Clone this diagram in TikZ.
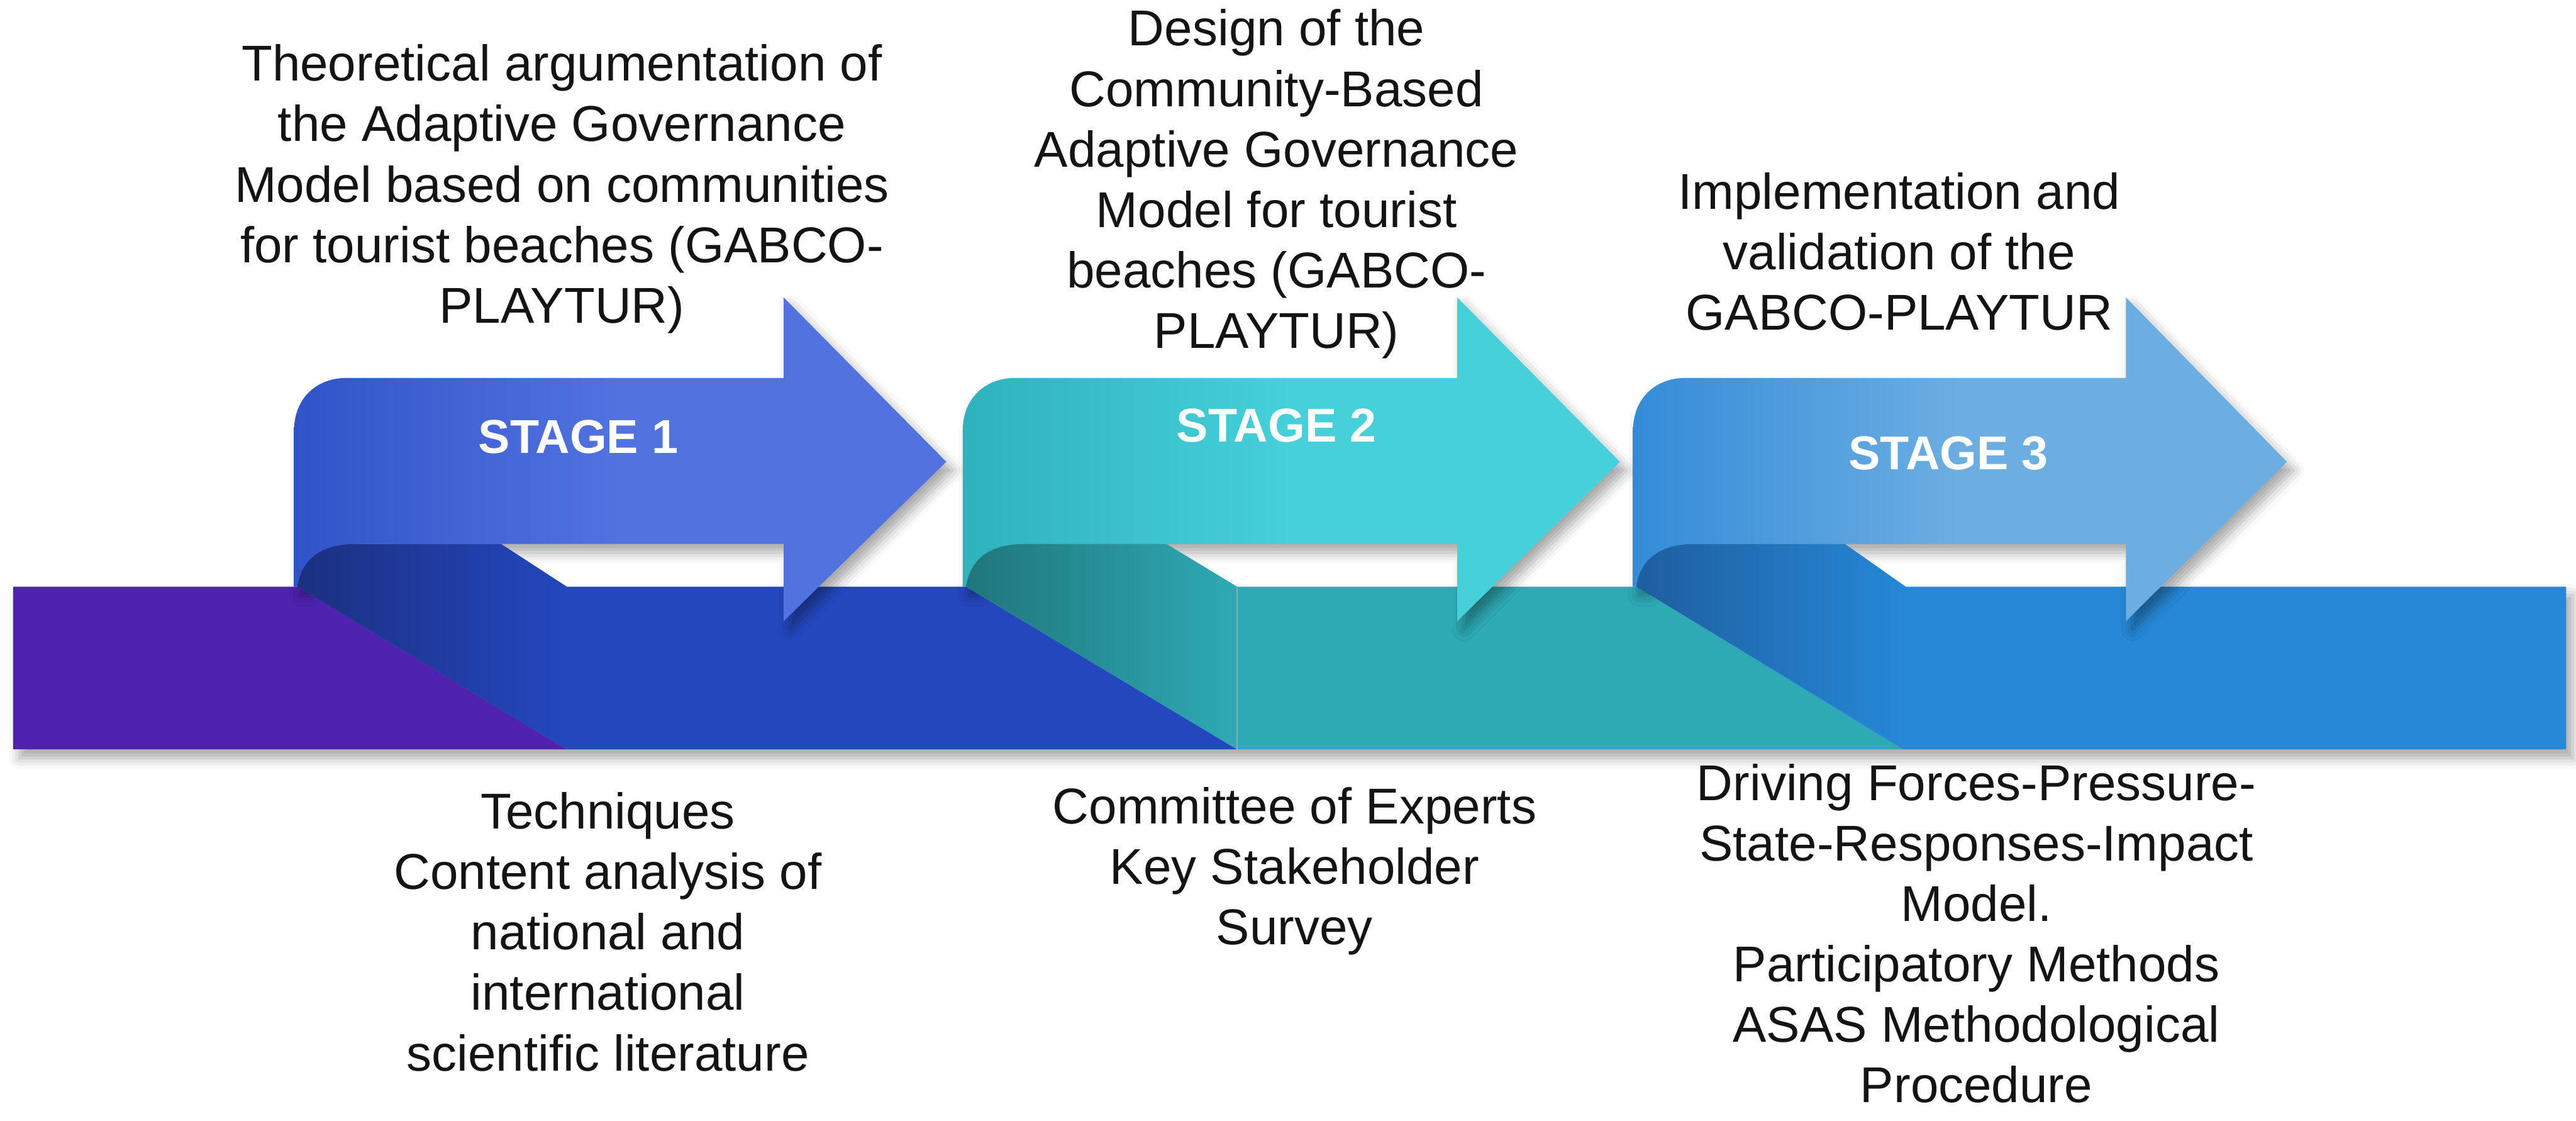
\documentclass[tikz,border=0pt]{standalone}
\usepackage{fontspec}
\setmainfont{Liberation Sans}
\usetikzlibrary{shadows.blur}
\definecolor{stagezero}{RGB}{79, 35, 176}
\definecolor{bandone}{RGB}{36, 71, 190}
\definecolor{arrowoneL}{RGB}{48, 84, 200}
\definecolor{arrowoneR}{RGB}{82, 114, 224}
\definecolor{foldoneL}{RGB}{27, 48, 128}
\definecolor{bandtwo}{RGB}{46, 170, 180}
\definecolor{arrowtwoL}{RGB}{46, 178, 190}
\definecolor{arrowtwoR}{RGB}{70, 208, 218}
\definecolor{foldtwoL}{RGB}{32, 118, 124}
\definecolor{bandthree}{RGB}{38, 136, 214}
\definecolor{arrowthreeL}{RGB}{52, 140, 216}
\definecolor{arrowthreeR}{RGB}{108, 174, 226}
\definecolor{foldthreeL}{RGB}{30, 94, 160}
\definecolor{bodytext}{RGB}{20, 20, 20}

\begin{document}
\begin{tikzpicture}[
    x=0.26735mm, y=-0.26735mm,
    stagetext/.style = {
        align=center, inner sep=0pt,
        font=\fontsize{23.3}{28}\selectfont, text=bodytext
    },
    stagelabel/.style = {font=\fontsize{22}{26}\selectfont\bfseries, text=white},
    softshadow/.style = {blur shadow={shadow xshift=3pt, shadow yshift=-4pt,
        shadow blur radius=5pt, shadow opacity=35}},
    arrowone/.style   = {left color=arrowoneL, right color=arrowoneR, middle color=arrowoneR, softshadow},
    arrowtwo/.style   = {left color=arrowtwoL, right color=arrowtwoR, middle color=arrowtwoR, softshadow},
    arrowthree/.style = {left color=arrowthreeL, right color=arrowthreeR, middle color=arrowthreeR, softshadow},
    foldone/.style    = {left color=foldoneL, right color=bandone},
    foldtwo/.style    = {left color=foldtwoL, right color=bandtwo},
    foldthree/.style  = {left color=foldthreeL, right color=bandthree},
]
\useasboundingbox (0,0) rectangle (1568,682);

% Band along the bottom
\path[fill=white, softshadow] (8,357) rectangle (1562,456);
\fill[stagezero] (8,357) -- (181,357) -- (345,456) -- (8,456) -- cycle;
\fill[bandone]   (181,357) -- (588,357) -- (753,456) -- (345,456) -- cycle;
\fill[bandtwo]   (588,357) -- (996,357) -- (1158,456) -- (753,456) -- cycle;
\fill[bandthree] (996,357) -- (1562,357) -- (1562,456) -- (1158,456) -- cycle;

% Stage 1
\path[arrowone] (179,357) -- (179,262) .. controls (179,243) and (192,230) .. (211,230)
    -- (477,230) -- (477,181) -- (576,281) -- (477,378) -- (477,331)
    -- (215,331) -- (185,357) -- cycle;
\path[foldone] (181,357) .. controls (184,338) and (198,331) .. (217,331)
    -- (305,331) -- (345,357) -- (345,456) -- cycle;
\node[stagelabel] (st1) at (352,266) {STAGE 1};

% Stage 2
\path[arrowtwo] (586,357) -- (586,262) .. controls (586,243) and (599,230) .. (618,230)
    -- (887,230) -- (887,181) -- (986,281) -- (887,378) -- (887,331)
    -- (622,331) -- (592,357) -- cycle;
\path[foldtwo] (588,357) .. controls (591,338) and (605,331) .. (624,331)
    -- (710,331) -- (753,357) -- (753,456) -- cycle;
\draw[black!35, line width=0.6pt] (753,357) -- (753,456);
\node[stagelabel] (st2) at (777,259) {STAGE 2};

% Stage 3
\path[arrowthree] (994,357) -- (994,262) .. controls (994,243) and (1007,230) .. (1026,230)
    -- (1294,230) -- (1294,181) -- (1392,281) -- (1294,378) -- (1294,331)
    -- (1030,331) -- (1000,357) -- cycle;
\path[foldthree] (996,357) .. controls (999,338) and (1013,331) .. (1032,331)
    -- (1123,331) -- (1160,357) -- (1160,456) -- cycle;
\node[stagelabel] (st3) at (1186,276) {STAGE 3};

% Texts above
\node[stagetext] (top1) at (342,115) {Theoretical argumentation of\\the Adaptive Governance\\Model based on communities\\for tourist beaches (GABCO-\\PLAYTUR)};
\node[stagetext] (top2) at (777,112) {Design of the\\Community-Based\\Adaptive Governance\\Model for tourist\\beaches (GABCO-\\PLAYTUR)};
\node[stagetext] (top3) at (1156,153) {Implementation and\\validation of the\\GABCO-PLAYTUR};

% Texts below
\node[stagetext] (bot1) at (370,567) {Techniques\\Content analysis of\\national and\\international\\scientific literature};
\node[stagetext] (bot2) at (788,530) {Committee of Experts\\Key Stakeholder\\Survey};
\node[stagetext] (bot3) at (1203,568) {Driving Forces-Pressure-\\State-Responses-Impact\\Model.\\Participatory Methods\\ASAS Methodological\\Procedure};

\end{tikzpicture}
\end{document}
